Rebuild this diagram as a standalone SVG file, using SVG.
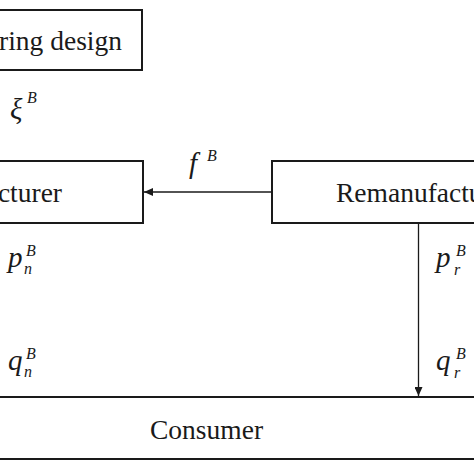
<svg xmlns="http://www.w3.org/2000/svg" width="474" height="474" viewBox="0 0 474 474">
<style>
.box{fill:#fff;stroke:#1a1a1a;stroke-width:2}
.lbl{font-family:"Liberation Serif","Times New Roman",serif;font-size:27.5px;fill:#1a1a1a}
.m{font-family:"Liberation Serif","Times New Roman",serif;font-style:italic;font-size:29px;fill:#1a1a1a}
.s{font-family:"Liberation Serif","Times New Roman",serif;font-style:italic;font-size:16px;fill:#1a1a1a}
.c{stroke:#1a1a1a;stroke-width:1.3;fill:none}
</style>
<defs>
<marker id="ah" markerWidth="10" markerHeight="8" refX="9" refY="4" orient="auto" markerUnits="userSpaceOnUse">
<path d="M0,0 L9,4 L0,8 Z" fill="#1a1a1a"/>
</marker>
</defs>
<rect width="474" height="474" fill="#fff"/>
<g id="design">
<rect class="box" x="-20" y="10" width="162" height="60"/>
<text class="lbl" x="122" y="50" text-anchor="end">ring design</text>
</g>
<g id="manufacturer">
<rect class="box" x="-20" y="161" width="163" height="62"/>
<text class="lbl" x="62" y="202" text-anchor="end">cturer</text>
</g>
<g id="remanufacturer">
<rect class="box" x="272" y="161" width="222" height="62"/>
<text class="lbl" x="336" y="202">Remanufactu</text>
</g>
<g id="consumer">
<rect class="box" x="-20" y="397" width="514" height="62"/>
<text class="lbl" x="150" y="439">Consumer</text>
</g>
<g id="connectors">
<line class="c" x1="272" y1="192" x2="144" y2="192" marker-end="url(#ah)"/>
<line class="c" x1="418.5" y1="223" x2="418.5" y2="396" marker-end="url(#ah)"/>
</g>
<g id="labels">
<text class="m" x="189" y="173">f</text><text class="s" x="207" y="161">B</text>
<text class="m" x="10" y="119">ξ</text><text class="s" x="27" y="103">B</text>
<text class="m" x="8" y="267">p</text><text class="s" x="26" y="256">B</text><text class="s" x="24" y="274">n</text>
<text class="m" x="8" y="370">q</text><text class="s" x="26" y="359">B</text><text class="s" x="24" y="377">n</text>
<text class="m" x="436" y="267">p</text><text class="s" x="456" y="256">B</text><text class="s" x="454" y="275">r</text>
<text class="m" x="436" y="370">q</text><text class="s" x="456" y="359">B</text><text class="s" x="454" y="378">r</text>
</g>
</svg>
